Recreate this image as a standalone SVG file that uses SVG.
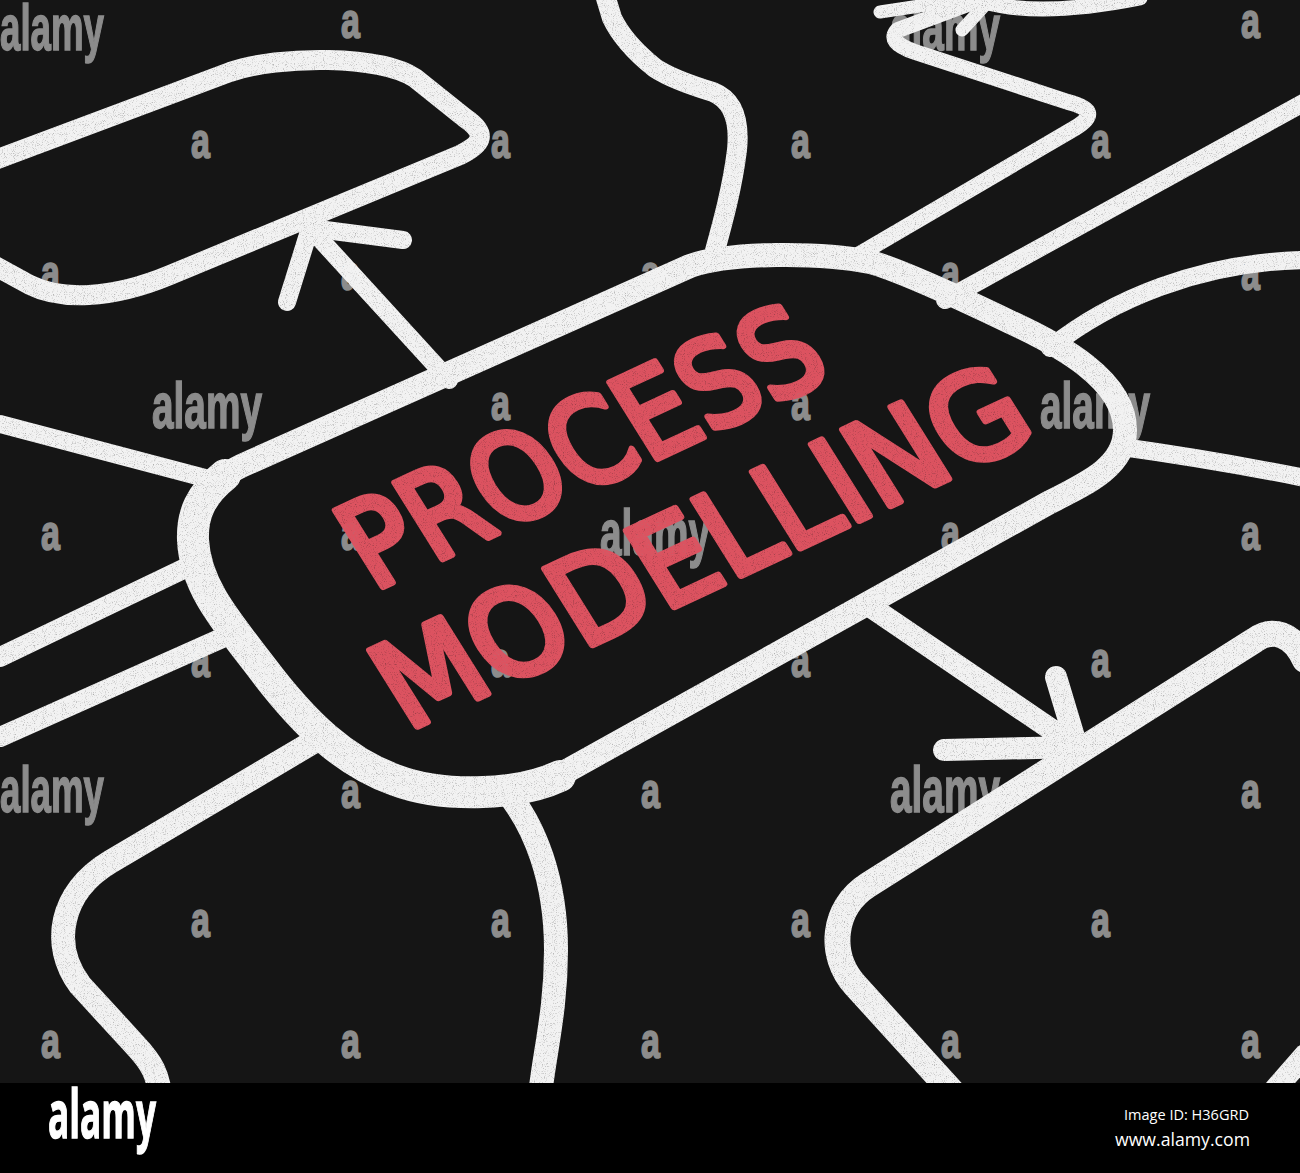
<svg xmlns="http://www.w3.org/2000/svg" width="1300" height="1173" viewBox="0 0 1300 1173">
<defs>
<style>
.ln{fill:none;stroke:#f2f2f2;stroke-linecap:round;stroke-linejoin:round}
.wm{font-family:"Liberation Sans Narrow","Liberation Sans",sans-serif;font-weight:bold;fill:#8c8c8c;stroke:#8c8c8c;stroke-width:1.2}
.title{font-family:"DejaVu Sans","Liberation Sans",sans-serif;font-size:122px;fill:#dc5260;stroke:#dc5260;stroke-width:7;stroke-linejoin:round}
.foot{font-family:"Liberation Sans Narrow","Open Sans","Liberation Sans",sans-serif;fill:#ffffff}
</style>
<filter id="chalk" filterUnits="userSpaceOnUse" x="0" y="0" width="1300" height="1083">
<feTurbulence type="fractalNoise" baseFrequency="1.1" numOctaves="1" seed="4" result="noise"/>
<feColorMatrix in="noise" type="matrix" values="0 0 0 0 0  0 0 0 0 0  0 0 0 0 0  0 0 0 -1.1 1.6" result="mask"/>
<feComposite in="SourceGraphic" in2="mask" operator="in"/>
</filter>
</defs>
<rect x="0" y="0" width="1300" height="1083" fill="#151515"/>

<g id="watermarks" class="wm">
<g font-size="48">
<text transform="translate(0,50) scale(1,1.35)" textLength="104" lengthAdjust="spacingAndGlyphs">alamy</text>
<text transform="translate(890,50) scale(1,1.35)" textLength="110" lengthAdjust="spacingAndGlyphs">alamy</text>
<text transform="translate(152,428) scale(1,1.35)" textLength="110" lengthAdjust="spacingAndGlyphs">alamy</text>
<text transform="translate(1040,428) scale(1,1.35)" textLength="110" lengthAdjust="spacingAndGlyphs">alamy</text>
<text transform="translate(600,555) scale(1,1.35)" textLength="110" lengthAdjust="spacingAndGlyphs">alamy</text>
<text transform="translate(0,812) scale(1,1.35)" textLength="104" lengthAdjust="spacingAndGlyphs">alamy</text>
<text transform="translate(890,812) scale(1,1.35)" textLength="110" lengthAdjust="spacingAndGlyphs">alamy</text>
</g>
<g font-size="34">
<text transform="translate(341,38) scale(1,1.45)">a</text>
<text transform="translate(1241,38) scale(1,1.45)">a</text>
<text transform="translate(191,158) scale(1,1.45)">a</text>
<text transform="translate(491,158) scale(1,1.45)">a</text>
<text transform="translate(791,158) scale(1,1.45)">a</text>
<text transform="translate(1091,158) scale(1,1.45)">a</text>
<text transform="translate(41,290) scale(1,1.45)">a</text>
<text transform="translate(341,290) scale(1,1.45)">a</text>
<text transform="translate(641,290) scale(1,1.45)">a</text>
<text transform="translate(941,290) scale(1,1.45)">a</text>
<text transform="translate(1241,290) scale(1,1.45)">a</text>
<text transform="translate(491,420) scale(1,1.45)">a</text>
<text transform="translate(791,420) scale(1,1.45)">a</text>
<text transform="translate(41,550) scale(1,1.45)">a</text>
<text transform="translate(341,550) scale(1,1.45)">a</text>
<text transform="translate(941,550) scale(1,1.45)">a</text>
<text transform="translate(1241,550) scale(1,1.45)">a</text>
<text transform="translate(191,677) scale(1,1.45)">a</text>
<text transform="translate(491,677) scale(1,1.45)">a</text>
<text transform="translate(791,677) scale(1,1.45)">a</text>
<text transform="translate(1091,677) scale(1,1.45)">a</text>
<text transform="translate(341,808) scale(1,1.45)">a</text>
<text transform="translate(641,808) scale(1,1.45)">a</text>
<text transform="translate(1241,808) scale(1,1.45)">a</text>
<text transform="translate(191,937) scale(1,1.45)">a</text>
<text transform="translate(491,937) scale(1,1.45)">a</text>
<text transform="translate(791,937) scale(1,1.45)">a</text>
<text transform="translate(1091,937) scale(1,1.45)">a</text>
<text transform="translate(41,1058) scale(1,1.45)">a</text>
<text transform="translate(341,1058) scale(1,1.45)">a</text>
<text transform="translate(641,1058) scale(1,1.45)">a</text>
<text transform="translate(941,1058) scale(1,1.45)">a</text>
<text transform="translate(1241,1058) scale(1,1.45)">a</text>
</g>
</g>

<g filter="url(#chalk)">
<g id="connectors">
<path class="ln" stroke-width="18" d="M0,424 L205,478"/>
<path class="ln" stroke-width="20" d="M0,657 L198,562"/>
<path class="ln" stroke-width="20" d="M0,737 L240,630"/>
<path class="ln" stroke-width="24" d="M325,735 L110,862 C60,892 50,945 80,985 L135,1045 C152,1063 158,1075 160,1095"/>
<path class="ln" stroke-width="24" d="M505,790 C535,825 556,880 556,950 C556,1010 545,1050 540,1095"/>
<path class="ln" stroke-width="20" d="M713,258 C722,225 732,190 737,150 C740,120 733,100 713,92 C690,85 670,78 655,68 C635,52 620,35 612,18 L605,-5"/>
<path class="ln" stroke-width="16" d="M853,258 L1075,128 C1095,116 1092,108 1068,102 L915,52 C895,45 890,38 898,30 L1000,-8"/>
<path class="ln" stroke-width="13" d="M880,12 L985,-4 M962,30 L995,-6"/>
<path class="ln" stroke-width="15" d="M985,2 C1020,12 1070,12 1140,-2"/>
<path class="ln" stroke-width="18" d="M945,300 L1305,102"/>
<path class="ln" stroke-width="18" d="M1050,348 C1110,300 1200,262 1305,260"/>
<path class="ln" stroke-width="18" d="M1122,447 C1180,455 1240,465 1305,478"/>
<path class="ln" stroke-width="18" d="M449,380 L310,228 M287,302 L310,228 L403,240"/>
<path class="ln" stroke-width="22" d="M868,605 L1077,747 M1056,677 L1077,747 L944,750"/>
</g>
<g id="box-top-left">
<path class="ln" stroke-width="20" d="M-5,160 L230,72 C280,55 380,55 415,78 L465,118 C490,135 480,145 460,155 L170,275 C110,300 60,300 30,285 L-5,266"/>
</g>
<g id="box-bottom-right">
<path class="ln" stroke-width="26" d="M1305,660 C1293,633 1272,628 1255,640 L868,885 C832,908 828,955 855,985 L955,1095"/>
<path class="ln" stroke-width="22" d="M1270,1095 L1305,1055"/>
</g>
<g id="node-process-modelling">
<path class="ln" stroke-width="24" d="M250,462 L690,266 C730,252 820,252 870,262 C900,270 960,298 1010,322 C1060,345 1125,380 1125,430 C1125,465 1090,482 1050,502 L565,772 C515,797 440,797 395,780 C345,762 305,725 262,668 C225,620 195,585 193,540 C192,500 212,478 250,462 Z"/>
<path class="ln" stroke-width="32" stroke-linecap="butt" d="M225,475 C200,495 192,515 193,540 C195,585 225,620 262,668 C305,725 345,762 395,780 C440,797 515,797 560,776"/>
<g class="title">
<text transform="translate(580,445) rotate(-25) skewX(7)" x="0" y="45" text-anchor="middle" textLength="510" lengthAdjust="spacingAndGlyphs">PROCESS</text>
<text transform="translate(700,545) rotate(-25) skewX(7)" x="0" y="45" text-anchor="middle" textLength="700" lengthAdjust="spacingAndGlyphs">MODELLING</text>
</g>
</g>
</g>

<g id="footer">
<rect x="0" y="1083" width="1300" height="90" fill="#000000"/>
<text class="foot" transform="translate(48,1138) scale(1,1.4)" font-size="48" font-weight="bold" textLength="108" lengthAdjust="spacingAndGlyphs" stroke="#ffffff" stroke-width="1">alamy</text>
<text class="foot" x="1249" y="1120" font-size="15" text-anchor="end" textLength="125" lengthAdjust="spacingAndGlyphs">Image ID: H36GRD</text>
<text class="foot" x="1250" y="1146" font-size="18" text-anchor="end" textLength="135" lengthAdjust="spacingAndGlyphs">www.alamy.com</text>
</g>
</svg>
